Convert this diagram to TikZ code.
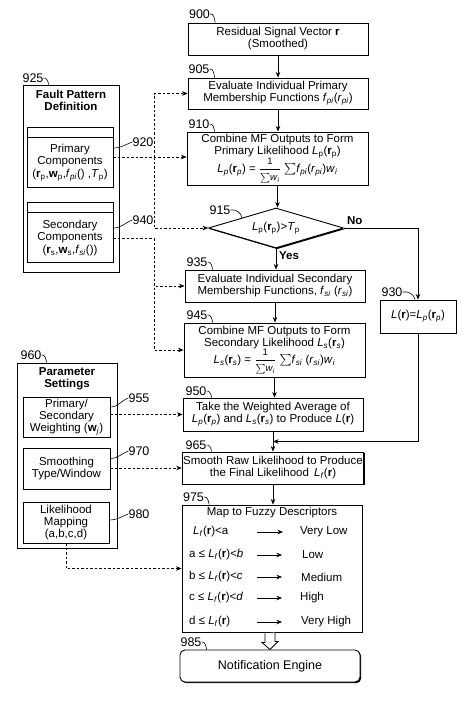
\documentclass[tikz,border=0pt]{standalone}
\usepackage{amsmath,amssymb}
\usepackage{fontspec}
\setmainfont{Liberation Sans}
\usepackage{tikz}
\usetikzlibrary{shapes,arrows.meta,positioning,calc,shadows}

\newcommand{\bvec}{\textbf{r}}
\newcommand{\Lik}[1]{\textit{L}\textsubscript{#1}}
\newcommand{\isub}[1]{\textsubscript{\textit{#1}}}
\newcommand{\wfrac}{$\dfrac{\mbox{\fontsize{9.5}{9.5}\selectfont 1}}{\mbox{\fontsize{9.5}{9.5}\selectfont$\sum$\textit{w}\isub{i}}}$}

\begin{document}
\begin{tikzpicture}[
    x=1pt, y=-1pt,
    >={Stealth[length=5.5pt,width=4.5pt]},
    box/.style={rectangle, draw, line width=0.9pt, fill=white, align=center, inner sep=1pt,
        font=\fontsize{11.5}{12}\selectfont,
        drop shadow={shadow xshift=1.2pt, shadow yshift=-1.2pt, fill=black, opacity=1}},
    panel/.style={rectangle, draw, line width=0.8pt, fill=white, inner sep=0pt},
    txt/.style={align=center, font=\fontsize{11.5}{12}\selectfont, inner sep=0pt},
    num/.style={font=\fontsize{12.5}{13}\selectfont, inner sep=0pt},
    lead/.style={line width=0.6pt},
    flow/.style={->, line width=0.8pt},
    feed/.style={->, line width=0.6pt, dash pattern=on 2.5pt off 2pt},
]
\useasboundingbox (0,0) rectangle (474,704);

% main column
\node[box, minimum width=180pt, minimum height=32pt] (b900) at (278,39) {Residual Signal Vector \bvec\\(Smoothed)};
\node[box, minimum width=180pt, minimum height=31pt] (b905) at (278,93.5) {Evaluate Individual Primary\\Membership Functions \textit{f}\isub{pi}(\textit{r}\isub{pi})};
\node[box, minimum width=181pt, minimum height=53pt, inner sep=0pt] (b910) at (277.5,158.5) {Combine MF Outputs to Form\\Primary Likelihood \Lik{p}(\bvec\textsubscript{p})\\[-1pt]\Lik{\textit{p}}(\bvec\isub{p}) = \wfrac\ $\sum$\textit{f}\isub{pi}(\textit{r}\isub{pi})\textit{w}\isub{i}};
\node[box, diamond, aspect=3.4, minimum width=135pt, minimum height=40pt, inner sep=0pt] (d915) at (276,228) {\Lik{p}(\bvec\textsubscript{p})>\textit{T}\textsubscript{p}};
\node[box, minimum width=180pt, minimum height=32pt] (b935) at (275,286) {Evaluate Individual Secondary\\Membership Functions, \textit{f}\isub{si} (\textit{r}\isub{si})};
\node[box, minimum width=181pt, minimum height=54pt, inner sep=0pt] (b945) at (274.5,350) {Combine MF Outputs to Form\\Secondary Likelihood \Lik{\textit{s}}(\bvec\isub{s})\\[-1pt]\Lik{\textit{s}}(\bvec\isub{s}) = \wfrac\ $\sum$\textit{f}\isub{si} (\textit{r}\isub{si})\textit{w}\isub{i}};
\node[box, minimum width=180pt, minimum height=33pt] (b950) at (273,414.5) {Take the Weighted Average of\\\Lik{\textit{p}}(\bvec\isub{p}) and \Lik{\textit{s}}(\bvec\isub{s}) to Produce \textit{L}(\bvec)};
\node[box, minimum width=180pt, minimum height=32pt] (b965) at (273,468) {Smooth Raw Likelihood to Produce\\the Final Likelihood \,\Lik{\textit{f}}(\bvec)};
\node[box, minimum width=180pt, minimum height=127pt] (b975) at (272,568.5) {};
\node[box, rounded corners=5pt, minimum width=180pt, minimum height=32pt, font=\fontsize{12.5}{13}\selectfont] (b985) at (270,666) {Notification Engine};
\node[box, minimum width=76pt, minimum height=33pt] (b930) at (418,316.5) {\textit{L}(\bvec)=\Lik{\textit{p}}(\bvec\isub{p})};

% fuzzy descriptors
\node[txt] (fztitle) at ([yshift=-8pt]b975.north) {Map to Fuzzy Descriptors};
\node[txt, anchor=west] (c1) at (193,532) {\Lik{\textit{f}}(\bvec)<a};
\node[txt, anchor=west] (c2) at (189,555) {a ≤ \Lik{\textit{f}}(\bvec)<\textit{b}};
\node[txt, anchor=west] (c3) at (189,577) {b ≤ \Lik{\textit{f}}(\bvec)<\textit{c}};
\node[txt, anchor=west] (c4) at (189,598) {c ≤ \Lik{\textit{f}}(\bvec)<\textit{d}};
\node[txt, anchor=west] (c5) at (189,622) {d ≤ \Lik{\textit{f}}(\bvec)};
\node[txt, anchor=west] (v1) at (300,532) {Very Low};
\node[txt, anchor=west] (v2) at (302,555) {Low};
\node[txt, anchor=west] (v3) at (301,577) {Medium};
\node[txt, anchor=west] (v4) at (300,598) {High};
\node[txt, anchor=west] (v5) at (301,622) {Very High};
\coordinate (a1) at (257,532);
\coordinate (a2) at (257,555);
\coordinate (a3) at (257,577);
\coordinate (a4) at (257,598);
\coordinate (a5) at (257,622);
\draw[flow, line width=0.6pt] (a1) -- ++(26,0);
\draw[flow, line width=0.6pt] (a2) -- ++(25,0);
\draw[flow, line width=0.6pt] (a3) -- ++(25,0);
\draw[flow, line width=0.6pt] (a4) -- ++(25,0);
\draw[flow, line width=0.6pt] (a5) -- ++(25,0);

% fault pattern definition
\node[box, minimum width=96pt, minimum height=187pt] (fpd) at (71,178.5) {};
\node[txt, font=\fontsize{11.5}{12}\selectfont\bfseries] (fpdtitle) at (71,100) {Fault Pattern\\Definition};
\node[panel, minimum width=86pt, minimum height=60pt] (prim) at (70,157) {};
\draw[line width=0.8pt] ([yshift=-11pt]prim.north west) -- ([yshift=-11pt]prim.north east);
\node[txt] (primtxt) at (70,162.5) {Primary\\Components\\[1pt](\bvec\textsubscript{p},\textbf{w}\textsubscript{p},\textit{f}\isub{pi}() ,\textit{T}\textsubscript{p})};
\node[panel, minimum width=86pt, minimum height=60pt] (sec) at (70,232) {};
\draw[line width=0.8pt] ([yshift=-11pt]sec.north west) -- ([yshift=-11pt]sec.north east);
\node[txt] (sectxt) at (70,238) {Secondary\\Components\\[1pt](\bvec\textsubscript{s},\textbf{w}\textsubscript{s},\textit{f}\isub{si}())};

% parameter settings
\node[box, minimum width=100pt, minimum height=185pt] (ps) at (67,455.5) {};
\node[txt, font=\fontsize{11.5}{12}\selectfont\bfseries] (pstitle) at (67,379) {Parameter\\Settings};
\node[panel, txt, minimum width=87pt, minimum height=40pt] (w955) at (66.5,417) {Primary/\\Secondary\\Weighting (\textbf{w}\isub{j})};
\node[panel, txt, minimum width=87pt, minimum height=41pt] (s970) at (66.5,468.5) {Smoothing\\Type/Window};
\node[panel, txt, minimum width=86pt, minimum height=41pt] (m980) at (66,522.5) {Likelihood\\Mapping\\(a,b,c,d)};

% flow
\draw[flow] (b900.south) -- (b900.south |- b905.north);
\draw[flow] (b905.south) -- (b905.south |- b910.north);
\draw[flow] (b910.south) -- (b910.south |- d915.north);
\draw[flow] (d915.south) -- (d915.south |- b935.north);
\draw[flow] (b935.south) -- (b935.south |- b945.north);
\draw[flow] (b945.south) -- (b945.south |- b950.north);
\draw[flow] (b950.south) -- (b950.south |- b965.north);
\draw[flow] (b965.south) -- (b965.south |- b975.north);
\draw[flow] (d915.east) -| (b930.north);
\coordinate (jm) at ($(b950.south)!0.5!(b965.north)$);
\draw[flow] (b930.south) |- (jm);
\node[txt, font=\fontsize{11.5}{12}\selectfont\bfseries, anchor=west] (yes) at ($(d915.south)+(3,7)$) {Yes};
\node[txt, font=\fontsize{11.5}{12}\selectfont\bfseries, anchor=west] (no) at ($(d915.east)+(3,-7)$) {No};

% hollow arrow to notification engine
\draw[line width=0.8pt, fill=white] ($(b985.north |- b975.south)+(-5,1)$) -- ++(0,9) -- ++(-3,0) -- (b985.north) -- ++(8,-8) -- ++(-3,0) -- ++(0,-9);

% dashed feeds
\coordinate (jp) at ([xshift=41pt]prim.east);
\coordinate (js) at ([xshift=41pt,yshift=-6pt]sec.east);
\draw[feed] (prim.east) -- (prim.east -| b910.west);
\draw[feed] (jp) |- (b905.west);
\draw[feed] (jp) |- (d915.west);
\draw[feed, -] ([yshift=-6pt]sec.east) -- (js);
\draw[feed] (js) |- (b935.west);
\draw[feed] (js) |- (b945.west);
\draw[feed] (b950.west -| w955.east) -- (b950.west);
\draw[feed] (b965.west -| s970.east) -- (b965.west);
\draw[feed] (m980.south) |- (b975.west);

% reference numerals
\node[num] (l900) at (199.5,14) {900};
\node[num] (l905) at (199,69) {905};
\node[num] (l910) at (199,124) {910};
\node[num] (l915) at (220,210) {915};
\node[num] (l935) at (197,262) {935};
\node[num] (l945) at (197,315) {945};
\node[num] (l950) at (196,391) {950};
\node[num] (l965) at (196,445) {965};
\node[num] (l975) at (193.5,497) {975};
\node[num] (l985) at (191,642) {985};
\node[num] (l930) at (392,292) {930};
\node[num] (l925) at (33,78) {925};
\node[num] (l960) at (31,355) {960};
\node[num] (l920) at (143,142) {920};
\node[num] (l940) at (143,220) {940};
\node[num] (l955) at (139,398) {955};
\node[num] (l970) at (139,451) {970};
\node[num] (l980) at (139,514) {980};

\draw[lead] (l900.east) to[out=10,in=100] ($(b900.north -| l900.east)+(5,0)$);
\draw[lead] (l905.east) to[out=10,in=100] ($(b905.north -| l905.east)+(5,0)$);
\draw[lead] (l910.east) to[out=10,in=100] ($(b910.north -| l910.east)+(5,0)$);
\draw[lead] (l915.east) to[out=10,in=100] ($(d915.north)!0.5!(d915.west)$);
\draw[lead] (l935.east) to[out=10,in=100] ($(b935.north -| l935.east)+(5,0)$);
\draw[lead] (l945.east) to[out=10,in=100] ($(b945.north -| l945.east)+(5,0)$);
\draw[lead] (l950.east) to[out=10,in=100] ($(b950.north -| l950.east)+(5,0)$);
\draw[lead] (l965.east) to[out=10,in=100] ($(b965.north -| l965.east)+(5,0)$);
\draw[lead] (l975.east) to[out=10,in=100] ($(b975.north -| l975.east)+(5,0)$);
\draw[lead] (l985.east) to[out=10,in=100] ($(b985.north -| l985.east)+(5,0)$);
\draw[lead] (l930.east) to[out=10,in=100] ($(b930.north)+(-3,0)$);
\draw[lead] (l925.east) to[out=10,in=100] ($(fpd.north -| l925.east)+(5,0)$);
\draw[lead] (l960.east) to[out=10,in=100] ($(ps.north -| l960.east)+(5,0)$);
\draw[lead] ([yshift=9pt]prim.east) to[out=0,in=200] (l920.west);
\draw[lead] ([yshift=4pt]sec.east) to[out=0,in=200] (l940.west);
\draw[lead] ([yshift=10pt]w955.east) to[out=0,in=200] (l955.west);
\draw[lead] ([yshift=10pt]s970.east) to[out=0,in=200] (l970.west);
\draw[lead] ([yshift=2.5pt]m980.east) to[out=0,in=200] (l980.west);

\end{tikzpicture}
\end{document}
